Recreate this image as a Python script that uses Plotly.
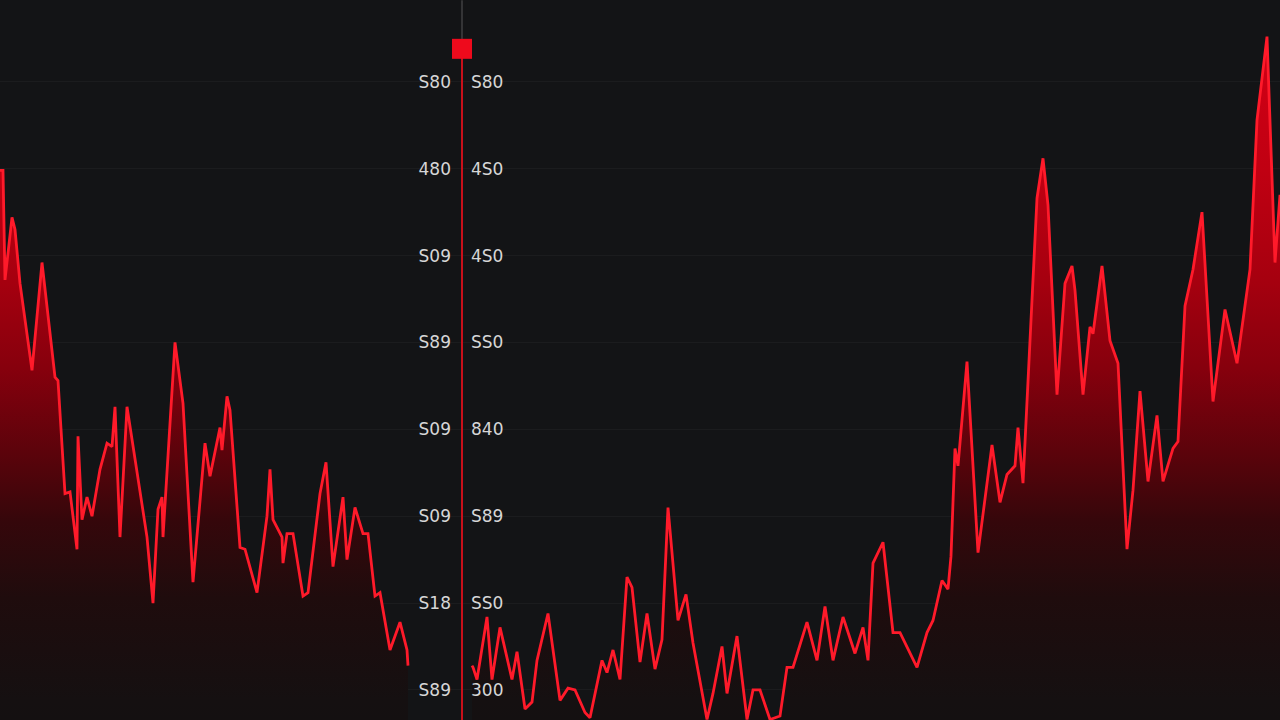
import plotly.graph_objects as go

# ---- data ----
left_x = [0, 1.5, 2.5, 6, 7.5, 10, 16, 21, 27.5, 29, 32.5, 35, 38.5, 39, 41, 43.5, 46, 50, 53.5,
          56, 57.5, 60, 63.5, 73.5, 76.5, 79, 81, 81.5, 87.5, 91.5, 96.5, 102.5, 105, 110, 111,
          113.5, 115, 120, 122.5, 128.5, 133.5, 135, 136.5, 141, 141.5, 143.5, 146.5, 151.5, 154,
          160, 163, 166.5, 171.5, 173.5, 177.5, 181.5, 184, 187.5, 190, 191.5, 195, 200, 203.5, 204]
left_y = [599, 599, 536, 572, 565, 534, 484, 546, 480, 478, 413, 414, 381, 446, 398, 411, 400, 427, 442,
          440, 463, 388, 463, 388, 350, 404, 411, 388, 500, 465, 362, 442, 423, 451, 438,
          469, 461, 382, 381, 356, 400, 427, 398, 388, 373, 390, 390, 354, 356,
          413, 431, 371, 411, 375, 405, 390, 390, 354, 356, 346, 323, 339, 323, 314]

right_x = [236, 236.5, 238.5, 243.5, 246, 250, 256, 258.5, 262.5, 266, 268.5, 274, 280, 284, 287.5,
           292.5, 295, 301, 303.5, 306.5, 310, 313.5, 316, 320, 323.5, 327.5, 331, 334, 339, 343, 346.5,
           353.5, 356.5, 361, 363.5, 368.5, 373.5, 376.5, 380, 385, 390, 393.5, 396.5, 403.5, 408.5,
           412.5, 416.5, 421.5, 427.5, 431.5, 434, 436.5, 441.5, 446.5, 450, 458.5, 463.5, 466.5, 471,
           474, 475.5, 477.5, 479, 483.5, 489, 496, 500, 503.5, 507.5, 509, 511.5, 518.5, 521.5, 524,
           528.5, 532.5, 536, 537.5, 541.5, 545, 546.5, 551, 555, 559, 563.5, 566.5, 570, 574, 578.5,
           581.5, 586.5, 589, 592.5, 596.5, 601, 606.5, 612.5, 618.5, 625, 628.5, 633.5, 637.5, 640]
right_y = [314, 313, 306, 342, 306, 336, 306, 322, 289, 293, 317, 344, 294, 301, 300,
           287, 284, 317, 310, 323, 306, 365, 359, 316, 344, 312, 329, 405, 340, 355, 327,
           283, 298, 325, 298, 331, 283, 300, 300, 283, 285, 313, 313, 339, 317,
           348, 317, 342, 321, 336, 317, 373, 385, 333, 333, 313, 333, 340, 363,
           358, 377, 439, 429, 489, 379, 441, 408, 424, 429, 451, 419, 583, 606, 579,
           470, 534, 544, 530, 470, 509, 505, 544, 501, 488, 381, 415, 472, 420, 458,
           420, 439, 443, 521, 542, 575, 466, 519, 488, 542, 628, 676, 546, 585]

cursor_x = [231, 231]
cursor_y = [669, 282]
cursor_top_y = [697, 669]

tick_vals = [300, 350, 400, 450, 500, 550, 600, 650]
left_labels = ["S89", "S18", "S09", "S09", "S89", "S09", "480", "S80"]
right_labels = ["300", "SS0", "S89", "840", "SS0", "4S0", "4S0", "S80"]

Y_RANGE = [282.7, 697.1]
X_RANGE = [0, 640]

fill_scale = [[0.0, "#141011"], [0.03, "#151011"], [0.19, "#1f0c0d"], [0.31, "#35070b"],
              [0.42, "#5c030b"], [0.55, "#86000d"], [0.69, "#a6000f"], [0.86, "#c00012"],
              [1.0, "#cc0014"]]

fig = go.Figure()
for xs, ys in [(left_x, left_y), (right_x, right_y)]:
    fig.add_trace(go.Scatter(
        x=xs, y=ys, mode="lines", fill="tozeroy",
        line=dict(color="#ff1a2a", width=2.8),
        fillgradient=dict(type="vertical", colorscale=fill_scale, start=283, stop=650),
        hoverinfo="skip", showlegend=False))

fig.add_trace(go.Scatter(
    x=cursor_x, y=cursor_top_y, mode="lines", yaxis="y2",
    line=dict(color="#343436", width=2),
    hoverinfo="skip", showlegend=False))
fig.add_trace(go.Scatter(
    x=cursor_x, y=cursor_y, mode="lines", yaxis="y2",
    line=dict(color="#c8101a", width=2),
    hoverinfo="skip", showlegend=False))
fig.add_trace(go.Scatter(
    x=cursor_x[:1], y=cursor_y[:1], mode="markers", yaxis="y2",
    marker=dict(symbol="square", size=20, color="#ee0a1c"),
    hoverinfo="skip", showlegend=False))

axis_font = dict(family="DejaVu Sans", size=17, color="#d6d6d6")
fig.update_layout(
    width=1280, height=720,
    margin=dict(l=0, r=0, t=0, b=0),
    paper_bgcolor="#131416", plot_bgcolor="#131416",
    xaxis=dict(range=X_RANGE, visible=False, showgrid=False, zeroline=False),
    yaxis=dict(range=Y_RANGE, anchor="free", position=231 / 640, side="left",
               tickvals=tick_vals, ticktext=left_labels, tickfont=axis_font,
               ticks="", ticklabelstandoff=11,
               showgrid=True, gridcolor="rgba(255,255,255,0.035)", gridwidth=1,
               zeroline=False, showline=False),
    yaxis2=dict(range=Y_RANGE, anchor="free", position=231 / 640, side="right",
                overlaying="y", tickvals=tick_vals, ticktext=right_labels,
                tickfont=axis_font, ticks="", ticklabelstandoff=8,
                showgrid=False, zeroline=False, showline=False),
    showlegend=False,
)

fig.write_html(
    "out.html",
    config={"displayModeBar": False},
    post_script="document.body.style.margin='0';document.body.style.background='#131416';",
)
